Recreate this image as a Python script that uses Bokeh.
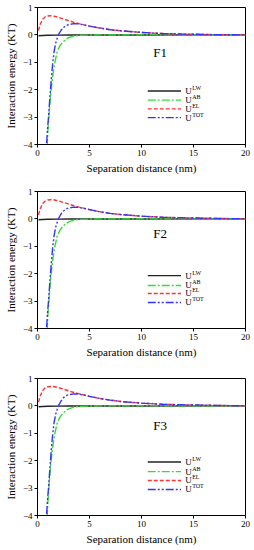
from bokeh.plotting import figure
from bokeh.layouts import column
from bokeh.embed import file_html
from bokeh.resources import INLINE
from bokeh.core.properties import value
from bokeh.models import FixedTicker

panel_names = ["F1", "F2", "F3"]
x_ticks = [0, 5, 10, 15, 20]
y_ticks = [-4, -3, -2, -1, 0, 1]

# U^LW (black)
x_lw = [0.1, 0.5, 1.0, 2.0, 3.0, 5.0, 10.0, 20.0]
lw_f1 = [-0.03, -0.02, -0.015, -0.01, -0.005, -0.003, -0.001, 0.0]
lw_f2 = [-0.03, -0.02, -0.015, -0.01, -0.005, -0.003, -0.001, 0.0]
lw_f3 = [-0.03, -0.02, -0.015, -0.01, -0.005, -0.003, -0.001, 0.0]

# U^EL (red)
x_el = [0.1, 0.25, 0.5, 0.75, 1.0, 1.25, 1.5, 1.75, 2.0, 2.5, 3.0, 3.5, 4.0,
        5, 6, 7, 8, 10, 12, 14, 17, 20]
el_f1 = [0.16, 0.38, 0.57, 0.66, 0.69, 0.70, 0.69, 0.67, 0.64, 0.58, 0.52, 0.46, 0.41,
         0.32, 0.25, 0.19, 0.15, 0.09, 0.05, 0.03, 0.01, 0.0]
el_f2 = [0.15, 0.36, 0.56, 0.65, 0.69, 0.70, 0.70, 0.68, 0.66, 0.60, 0.54, 0.48, 0.43,
         0.34, 0.26, 0.20, 0.16, 0.10, 0.06, 0.04, 0.02, 0.0]
el_f3 = [0.14, 0.35, 0.56, 0.66, 0.70, 0.71, 0.71, 0.69, 0.67, 0.61, 0.55, 0.49, 0.44,
         0.35, 0.27, 0.21, 0.16, 0.10, 0.06, 0.04, 0.02, 0.0]

# U^AB (green)
x_ab = [0.85, 0.93, 1.0, 1.09, 1.2, 1.31, 1.5, 1.67, 1.9, 2.15, 2.4, 2.7, 3.0, 3.5,
        4.0, 5.0, 6.0, 8.0, 20.0]
ab_f1 = [-4.6, -4.0, -3.5, -3.0, -2.45, -2.0, -1.4, -1.0, -0.6, -0.4, -0.28, -0.17,
         -0.1, -0.04, -0.015, -0.005, 0.0, 0.0, 0.0]
ab_f2 = [-4.6, -4.0, -3.5, -3.0, -2.45, -2.0, -1.4, -1.0, -0.62, -0.42, -0.29, -0.18,
         -0.11, -0.045, -0.017, -0.005, 0.0, 0.0, 0.0]
ab_f3 = [-4.6, -4.0, -3.5, -3.0, -2.45, -2.0, -1.4, -1.0, -0.62, -0.42, -0.29, -0.18,
         -0.11, -0.045, -0.017, -0.005, 0.0, 0.0, 0.0]

# U^TOT (blue)
x_tot = [0.8, 0.87, 0.95, 1.06, 1.15, 1.25, 1.35, 1.47, 1.6, 1.75, 2.0, 2.25, 2.5,
         2.75, 3.0, 3.5, 4.0, 5, 6, 7, 8, 10, 12, 14, 17, 20]
tot_f1 = [-4.6, -4.0, -3.5, -3.0, -2.5, -2.0, -1.5, -1.0, -0.6, -0.3, 0.0, 0.16, 0.27,
          0.34, 0.38, 0.41, 0.40, 0.32, 0.25, 0.19, 0.15, 0.09, 0.05, 0.03, 0.01, 0.0]
tot_f2 = [-4.6, -4.0, -3.5, -3.0, -2.5, -2.0, -1.5, -1.0, -0.6, -0.3, 0.0, 0.17, 0.29,
          0.36, 0.40, 0.43, 0.42, 0.34, 0.26, 0.20, 0.16, 0.10, 0.06, 0.04, 0.02, 0.0]
tot_f3 = [-4.6, -4.0, -3.5, -3.0, -2.5, -2.0, -1.5, -1.0, -0.6, -0.3, 0.0, 0.17, 0.30,
          0.37, 0.41, 0.44, 0.43, 0.35, 0.27, 0.21, 0.16, 0.10, 0.06, 0.04, 0.02, 0.0]

legend_sups = ["LW", "AB", "EL", "TOT"]

panels = [
    (lw_f1, ab_f1, el_f1, tot_f1),
    (lw_f2, ab_f2, el_f2, tot_f2),
    (lw_f3, ab_f3, el_f3, tot_f3),
]

colors = ["#222222", "#33dd33", "#ff3333", "#3333ff"]
dashes = ["solid", "8 2 2 2", "4 2", "8 2 2 2 2 2"]
xs_all = [x_lw, x_ab, x_el, x_tot]

SERIF = "Liberation Serif"
tops = [7, 7, 10]
bottoms = [40, 40, 35]
name_y = [-0.64, -0.55, -0.72]
leg_y = [[-2.05, -2.38, -2.7, -3.02], [-2.07, -2.43, -2.72, -3.05], [-2.05, -2.4, -2.72, -3.05]]

figs = []
for i, name in enumerate(panel_names):
    p = figure(width=254, height=137 + tops[i] + bottoms[i], frame_width=208, frame_height=137,
               x_range=(0, 20), y_range=(-4, 1), output_backend="svg", toolbar_location=None,
               min_border_left=37, min_border_right=9, min_border_top=tops[i],
               min_border_bottom=bottoms[i])
    p.xgrid.visible = False
    p.ygrid.visible = False
    p.outline_line_color = "black"
    p.outline_line_width = 1
    p.xaxis.ticker = FixedTicker(ticks=x_ticks)
    p.yaxis.ticker = FixedTicker(ticks=y_ticks)
    for ax in (p.xaxis, p.yaxis):
        ax.minor_tick_line_color = None
        ax.major_tick_in = 0
        ax.major_tick_out = 3
        ax.axis_line_color = "black"
        ax.major_tick_line_color = "black"
        ax.major_label_text_font = SERIF
        ax.major_label_text_font_size = "9px"
        ax.major_label_text_color = "black"
        ax.axis_label_text_font = SERIF
        ax.axis_label_text_font_size = "11px"
        ax.axis_label_text_font_style = "normal"
        ax.axis_label_text_color = "black"
        ax.major_label_standoff = 2
        ax.axis_label_standoff = 3
    p.xaxis.axis_label = "Separation distance (nm)"
    p.yaxis.axis_label = "Interaction energy (KT)"

    ys_all = panels[i]
    for xs, ys, c, d in zip(xs_all, ys_all, colors, dashes):
        p.line(xs, ys, line_color=c, line_dash=d, line_width=1.4)

    # legend
    for k, (c, d, sup) in enumerate(zip(colors, dashes, legend_sups)):
        yy = leg_y[i][k]
        p.segment(x0=[10.6], y0=[yy], x1=[13.8], y1=[yy], line_color=c, line_dash=d,
                  line_width=1.4)
        p.text(x=[14.2], y=[yy], text=["U"], text_font=value(SERIF), text_font_size="9px",
               text_baseline="middle", text_align="left", text_color="black")
        p.text(x=[14.2], y=[yy], text=[sup], text_font=value(SERIF), text_font_size="6px",
               text_baseline="middle", text_align="left", text_color="black",
               x_offset=7, y_offset=-3)

    p.text(x=[11.8], y=[name_y[i]], text=[name], text_font=value(SERIF),
           text_font_size="13px", text_baseline="middle", text_align="center",
           text_color="black")
    figs.append(p)

layout = column(*figs, spacing=0)
html = file_html(layout, INLINE)
html = html.replace("<body>", '<body style="margin:0">', 1)
open("out.html", "w").write(html)
